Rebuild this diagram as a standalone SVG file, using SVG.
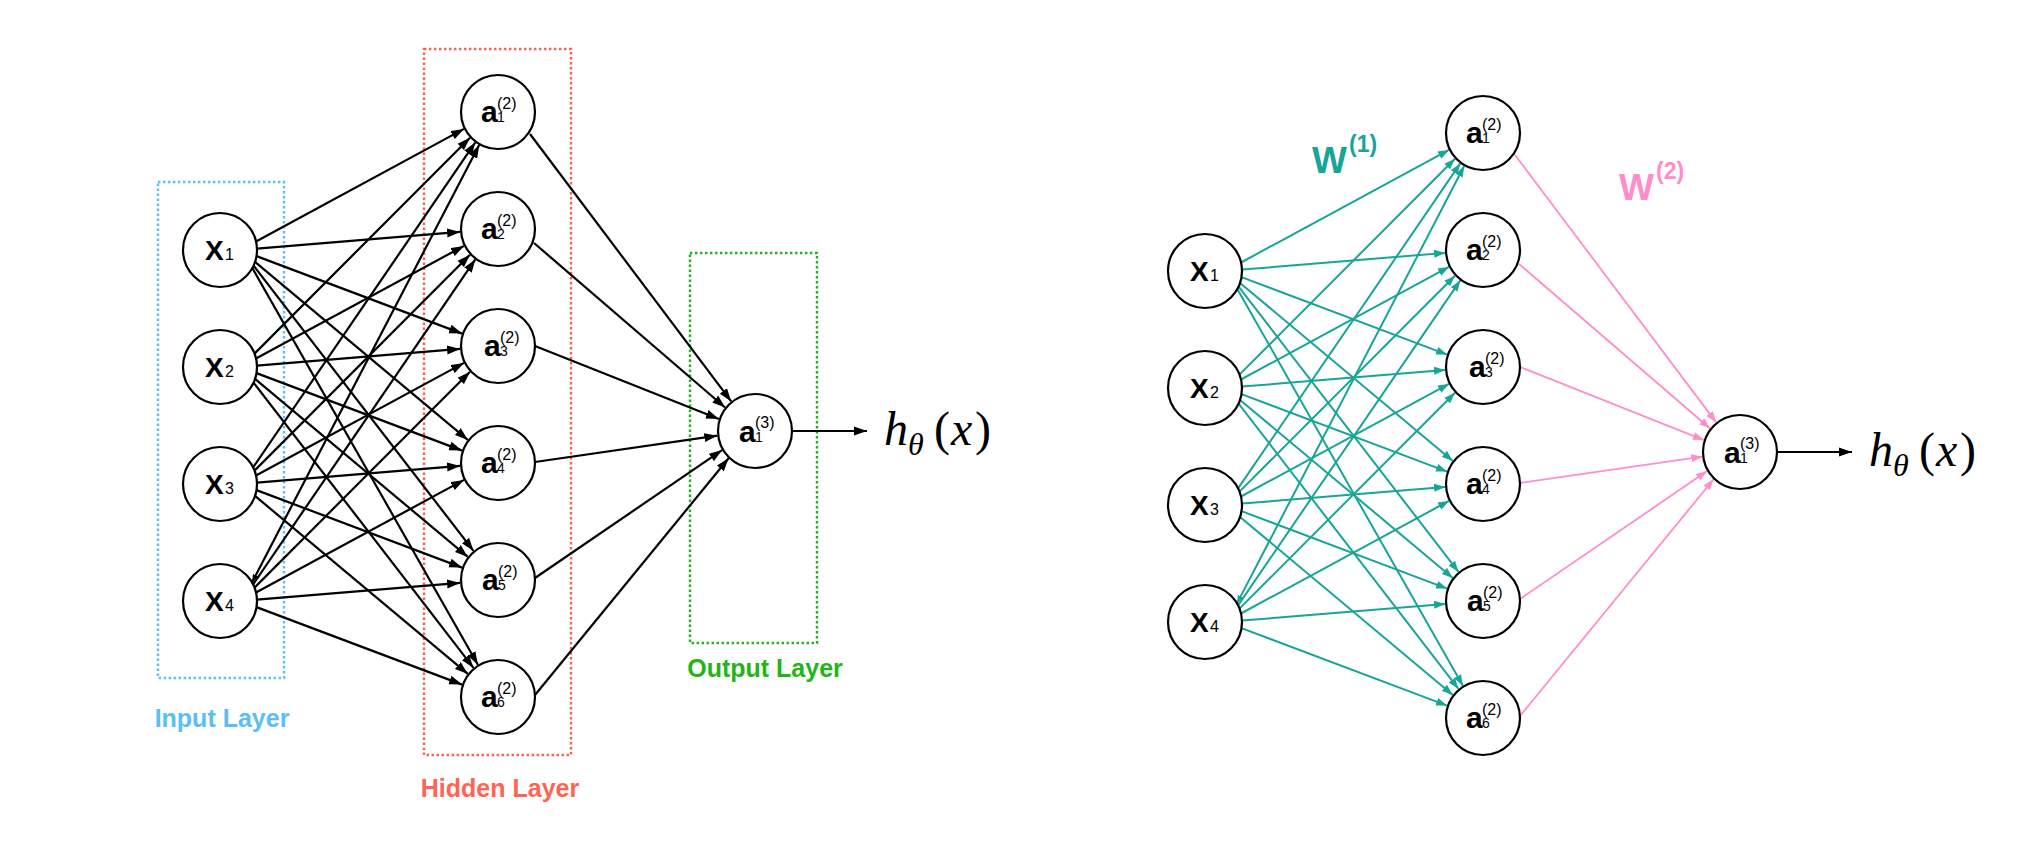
<svg xmlns="http://www.w3.org/2000/svg" width="2024" height="852" viewBox="0 0 2024 852">
<style>
.bg{fill:#ffffff}
.node circle{fill:#ffffff;stroke:#000000;stroke-width:2.2}
.t{font-family:"Liberation Sans",Arial,Helvetica,sans-serif;fill:#000000}
.big{font-weight:bold;font-size:28px}
.abig{font-weight:bold;font-size:30px}
.sub{font-size:16px}
.asub{font-size:14px}
.asup{font-size:16px}
.blk line{stroke:#000000;stroke-width:2.2;fill:none;marker-end:url(#ahK)}
.teal line{stroke:#17A597;stroke-width:2;fill:none;marker-end:url(#ahT)}
.pink line{stroke:#FF8CCB;stroke-width:1.8;fill:none;marker-end:url(#ahP)}
.outarrow line{stroke:#000000;stroke-width:2.2;marker-end:url(#ahK)}
.box{fill:none;stroke-width:2.4;stroke-dasharray:2.4 2.6}
.lay{font-family:"Liberation Sans",Arial,Helvetica,sans-serif;font-weight:bold;font-size:25px;text-anchor:middle}
.math{font-family:"Liberation Serif","Times New Roman",serif;font-size:48px;fill:#000000}
.wl{font-family:"Liberation Sans",Arial,Helvetica,sans-serif;font-weight:bold}
</style>
<defs>
<marker id="ahK" markerUnits="userSpaceOnUse" markerWidth="14" markerHeight="10" refX="13" refY="5" orient="auto"><path d="M0,0.5 L13,5 L0,9.5 z" fill="#000000"/></marker>
<marker id="ahKs" markerUnits="userSpaceOnUse" markerWidth="9" markerHeight="7" refX="8" refY="3.5" orient="auto-start-reverse"><path d="M0,0.5 L8,3.5 L0,6.5 z" fill="#000000"/></marker>
<marker id="ahT" markerUnits="userSpaceOnUse" markerWidth="12" markerHeight="9" refX="11" refY="4.5" orient="auto"><path d="M0,0.5 L11,4.5 L0,8.5 z" fill="#17A597"/></marker>
<marker id="ahTs" markerUnits="userSpaceOnUse" markerWidth="9" markerHeight="7" refX="8" refY="3.5" orient="auto-start-reverse"><path d="M0,0.5 L8,3.5 L0,6.5 z" fill="#17A597"/></marker>
<marker id="ahP" markerUnits="userSpaceOnUse" markerWidth="12" markerHeight="9" refX="11" refY="4.5" orient="auto"><path d="M0,0.5 L11,4.5 L0,8.5 z" fill="#FF8CCB"/></marker>
</defs>
<rect class="bg" x="0" y="0" width="2024" height="852"/>

<!-- ================= LEFT NETWORK ================= -->
<g id="layer-boxes">
<g id="input-layer"><rect class="box" x="158" y="182" width="126" height="496" stroke="#5BC0F8"/><text class="lay" x="222" y="727" fill="#5BBEF7">Input Layer</text></g>
<g id="hidden-layer"><rect class="box" x="424" y="49" width="147" height="706" stroke="#FF5F4E"/><text class="lay" x="500" y="797" fill="#FF6452">Hidden Layer</text></g>
<g id="output-layer"><rect class="box" x="690" y="253" width="127" height="390" stroke="#1FB41C"/><text class="lay" x="765" y="677" fill="#22B516">Output Layer</text></g>
</g>

<g id="left-connectors">
<g class="blk">
<line x1="256" y1="241.5" x2="464" y2="128.9"/>
<line x1="257" y1="248.6" x2="460.1" y2="231.9"/>
<line x1="256.5" y1="256.1" x2="462.1" y2="333.6"/>
<line x1="255" y1="261.9" x2="467.8" y2="439.9"/>
<line x1="253.6" y1="265.6" x2="473.5" y2="550.9"/>
<line x1="252.3" y1="268" x2="477.9" y2="664.7"/>
<line x1="254.5" y1="353.6" x2="470" y2="137.7"/>
<line x1="256" y1="358.5" x2="464" y2="245.9"/>
<line x1="257" y1="365.6" x2="460.1" y2="348.9"/>
<line x1="256.5" y1="373.1" x2="462.1" y2="450.6"/>
<line x1="255" y1="378.9" x2="467.8" y2="556.9"/>
<line x1="253.6" y1="382.6" x2="473.5" y2="667.9"/>
<line x1="253.1" y1="467.4" x2="475.3" y2="142.4"/>
<line x1="254.5" y1="470.6" x2="470" y2="254.7"/>
<line x1="256" y1="475.5" x2="464" y2="362.9"/>
<line x1="257" y1="482.6" x2="460.1" y2="465.9"/>
<line x1="256.5" y1="490.1" x2="462.1" y2="567.6"/>
<line x1="255" y1="495.9" x2="467.8" y2="673.9"/>
<line x1="252" y1="582.4" x2="479.2" y2="145" marker-start="url(#ahKs)"/>
<line x1="253.1" y1="584.4" x2="475.3" y2="259.4"/>
<line x1="254.5" y1="587.6" x2="470" y2="371.7"/>
<line x1="256" y1="592.5" x2="464" y2="479.9"/>
<line x1="257" y1="599.6" x2="460.1" y2="582.9"/>
<line x1="256.5" y1="607.1" x2="462.1" y2="684.6"/>
<line x1="530" y1="134" x2="731.2" y2="401.4"/>
<line x1="534" y1="243" x2="725.1" y2="407.5"/>
<line x1="535" y1="346" x2="718.9" y2="419.1"/>
<line x1="535" y1="462" x2="717.3" y2="435.7"/>
<line x1="535" y1="578" x2="722.1" y2="450.1"/>
<line x1="535" y1="695" x2="728.6" y2="458.3"/>
</g>
<g class="outarrow"><line x1="792" y1="431" x2="867" y2="431"/></g>
</g>

<g id="L-x1" class="node"><circle cx="220" cy="250" r="37"/><text class="t"><tspan class="big" x="205" y="260">X</tspan><tspan class="sub" x="225" y="260">1</tspan></text></g>
<g id="L-x2" class="node"><circle cx="220" cy="367" r="37"/><text class="t"><tspan class="big" x="205" y="377">X</tspan><tspan class="sub" x="225" y="377">2</tspan></text></g>
<g id="L-x3" class="node"><circle cx="220" cy="484" r="37"/><text class="t"><tspan class="big" x="205" y="494">X</tspan><tspan class="sub" x="225" y="494">3</tspan></text></g>
<g id="L-x4" class="node"><circle cx="220" cy="601" r="37"/><text class="t"><tspan class="big" x="205" y="611">X</tspan><tspan class="sub" x="225" y="611">4</tspan></text></g>

<g id="L-a1" class="node"><circle cx="498" cy="112" r="37"/><text class="t"><tspan class="abig" x="481" y="122">a</tspan><tspan class="asub" x="497" y="122">1</tspan><tspan class="asup" x="497" y="109">(2)</tspan></text></g>
<g id="L-a2" class="node"><circle cx="498" cy="229" r="37"/><text class="t"><tspan class="abig" x="481" y="239">a</tspan><tspan class="asub" x="497" y="239">2</tspan><tspan class="asup" x="497" y="226">(2)</tspan></text></g>
<g id="L-a3" class="node"><circle cx="498" cy="346" r="37"/><text class="t"><tspan class="abig" x="484" y="356">a</tspan><tspan class="asub" x="500" y="356">3</tspan><tspan class="asup" x="500" y="343">(2)</tspan></text></g>
<g id="L-a4" class="node"><circle cx="498" cy="463" r="37"/><text class="t"><tspan class="abig" x="481" y="473">a</tspan><tspan class="asub" x="497" y="473">4</tspan><tspan class="asup" x="497" y="460">(2)</tspan></text></g>
<g id="L-a5" class="node"><circle cx="498" cy="580" r="37"/><text class="t"><tspan class="abig" x="482" y="590">a</tspan><tspan class="asub" x="498" y="590">5</tspan><tspan class="asup" x="498" y="577">(2)</tspan></text></g>
<g id="L-a6" class="node"><circle cx="498" cy="697" r="37"/><text class="t"><tspan class="abig" x="481" y="707">a</tspan><tspan class="asub" x="497" y="707">6</tspan><tspan class="asup" x="497" y="694">(2)</tspan></text></g>

<g id="L-out" class="node"><circle cx="755" cy="431" r="37"/><text class="t"><tspan class="abig" x="739" y="442">a</tspan><tspan class="asub" x="755" y="442">1</tspan><tspan class="asup" x="755" y="428">(3)</tspan></text></g>

<g id="L-h"><text class="math"><tspan x="884" y="445" font-style="italic">h</tspan><tspan x="908" y="455" font-style="italic" font-size="32">θ</tspan><tspan x="934" y="445">(</tspan><tspan x="951" y="445" font-style="italic">x</tspan><tspan x="975" y="445">)</tspan></text></g>

<!-- ================= RIGHT NETWORK ================= -->
<g id="weight-labels">
<text class="wl" fill="#17A597"><tspan x="1312" y="173" font-size="37">W</tspan><tspan x="1349" y="152" font-size="23">(1)</tspan></text>
<text class="wl" fill="#FF8CCB"><tspan x="1619" y="200" font-size="37">W</tspan><tspan x="1656" y="179" font-size="23">(2)</tspan></text>
</g>

<g id="right-network" transform="translate(985,21)">
<g id="right-connectors">
<g class="teal">
<line x1="256" y1="241.5" x2="464" y2="128.9"/>
<line x1="257" y1="248.6" x2="460.1" y2="231.9"/>
<line x1="256.5" y1="256.1" x2="462.1" y2="333.6"/>
<line x1="255" y1="261.9" x2="467.8" y2="439.9"/>
<line x1="253.6" y1="265.6" x2="473.5" y2="550.9"/>
<line x1="252.3" y1="268" x2="477.9" y2="664.7"/>
<line x1="254.5" y1="353.6" x2="470" y2="137.7"/>
<line x1="256" y1="358.5" x2="464" y2="245.9"/>
<line x1="257" y1="365.6" x2="460.1" y2="348.9"/>
<line x1="256.5" y1="373.1" x2="462.1" y2="450.6"/>
<line x1="255" y1="378.9" x2="467.8" y2="556.9"/>
<line x1="253.6" y1="382.6" x2="473.5" y2="667.9"/>
<line x1="253.1" y1="467.4" x2="475.3" y2="142.4"/>
<line x1="254.5" y1="470.6" x2="470" y2="254.7"/>
<line x1="256" y1="475.5" x2="464" y2="362.9"/>
<line x1="257" y1="482.6" x2="460.1" y2="465.9"/>
<line x1="256.5" y1="490.1" x2="462.1" y2="567.6"/>
<line x1="255" y1="495.9" x2="467.8" y2="673.9"/>
<line x1="252" y1="582.4" x2="479.2" y2="145" marker-start="url(#ahTs)"/>
<line x1="253.1" y1="584.4" x2="475.3" y2="259.4"/>
<line x1="254.5" y1="587.6" x2="470" y2="371.7"/>
<line x1="256" y1="592.5" x2="464" y2="479.9"/>
<line x1="257" y1="599.6" x2="460.1" y2="582.9"/>
<line x1="256.5" y1="607.1" x2="462.1" y2="684.6"/>
</g>
<g class="pink">
<line x1="530" y1="134" x2="731.2" y2="401.4"/>
<line x1="534" y1="243" x2="725.1" y2="407.5"/>
<line x1="535" y1="346" x2="718.9" y2="419.1"/>
<line x1="535" y1="462" x2="717.3" y2="435.7"/>
<line x1="535" y1="578" x2="722.1" y2="450.1"/>
<line x1="535" y1="695" x2="728.6" y2="458.3"/>
</g>
<g class="outarrow"><line x1="792" y1="431" x2="867" y2="431"/></g>
</g>

<g id="R-x1" class="node"><circle cx="220" cy="250" r="37"/><text class="t"><tspan class="big" x="205" y="260">X</tspan><tspan class="sub" x="225" y="260">1</tspan></text></g>
<g id="R-x2" class="node"><circle cx="220" cy="367" r="37"/><text class="t"><tspan class="big" x="205" y="377">X</tspan><tspan class="sub" x="225" y="377">2</tspan></text></g>
<g id="R-x3" class="node"><circle cx="220" cy="484" r="37"/><text class="t"><tspan class="big" x="205" y="494">X</tspan><tspan class="sub" x="225" y="494">3</tspan></text></g>
<g id="R-x4" class="node"><circle cx="220" cy="601" r="37"/><text class="t"><tspan class="big" x="205" y="611">X</tspan><tspan class="sub" x="225" y="611">4</tspan></text></g>

<g id="R-a1" class="node"><circle cx="498" cy="112" r="37"/><text class="t"><tspan class="abig" x="481" y="122">a</tspan><tspan class="asub" x="497" y="122">1</tspan><tspan class="asup" x="497" y="109">(2)</tspan></text></g>
<g id="R-a2" class="node"><circle cx="498" cy="229" r="37"/><text class="t"><tspan class="abig" x="481" y="239">a</tspan><tspan class="asub" x="497" y="239">2</tspan><tspan class="asup" x="497" y="226">(2)</tspan></text></g>
<g id="R-a3" class="node"><circle cx="498" cy="346" r="37"/><text class="t"><tspan class="abig" x="484" y="356">a</tspan><tspan class="asub" x="500" y="356">3</tspan><tspan class="asup" x="500" y="343">(2)</tspan></text></g>
<g id="R-a4" class="node"><circle cx="498" cy="463" r="37"/><text class="t"><tspan class="abig" x="481" y="473">a</tspan><tspan class="asub" x="497" y="473">4</tspan><tspan class="asup" x="497" y="460">(2)</tspan></text></g>
<g id="R-a5" class="node"><circle cx="498" cy="580" r="37"/><text class="t"><tspan class="abig" x="482" y="590">a</tspan><tspan class="asub" x="498" y="590">5</tspan><tspan class="asup" x="498" y="577">(2)</tspan></text></g>
<g id="R-a6" class="node"><circle cx="498" cy="697" r="37"/><text class="t"><tspan class="abig" x="481" y="707">a</tspan><tspan class="asub" x="497" y="707">6</tspan><tspan class="asup" x="497" y="694">(2)</tspan></text></g>

<g id="R-out" class="node"><circle cx="755" cy="431" r="37"/><text class="t"><tspan class="abig" x="739" y="442">a</tspan><tspan class="asub" x="755" y="442">1</tspan><tspan class="asup" x="755" y="428">(3)</tspan></text></g>

<g id="R-h"><text class="math"><tspan x="884" y="445" font-style="italic">h</tspan><tspan x="908" y="455" font-style="italic" font-size="32">θ</tspan><tspan x="934" y="445">(</tspan><tspan x="951" y="445" font-style="italic">x</tspan><tspan x="975" y="445">)</tspan></text></g>
</g>
</svg>
